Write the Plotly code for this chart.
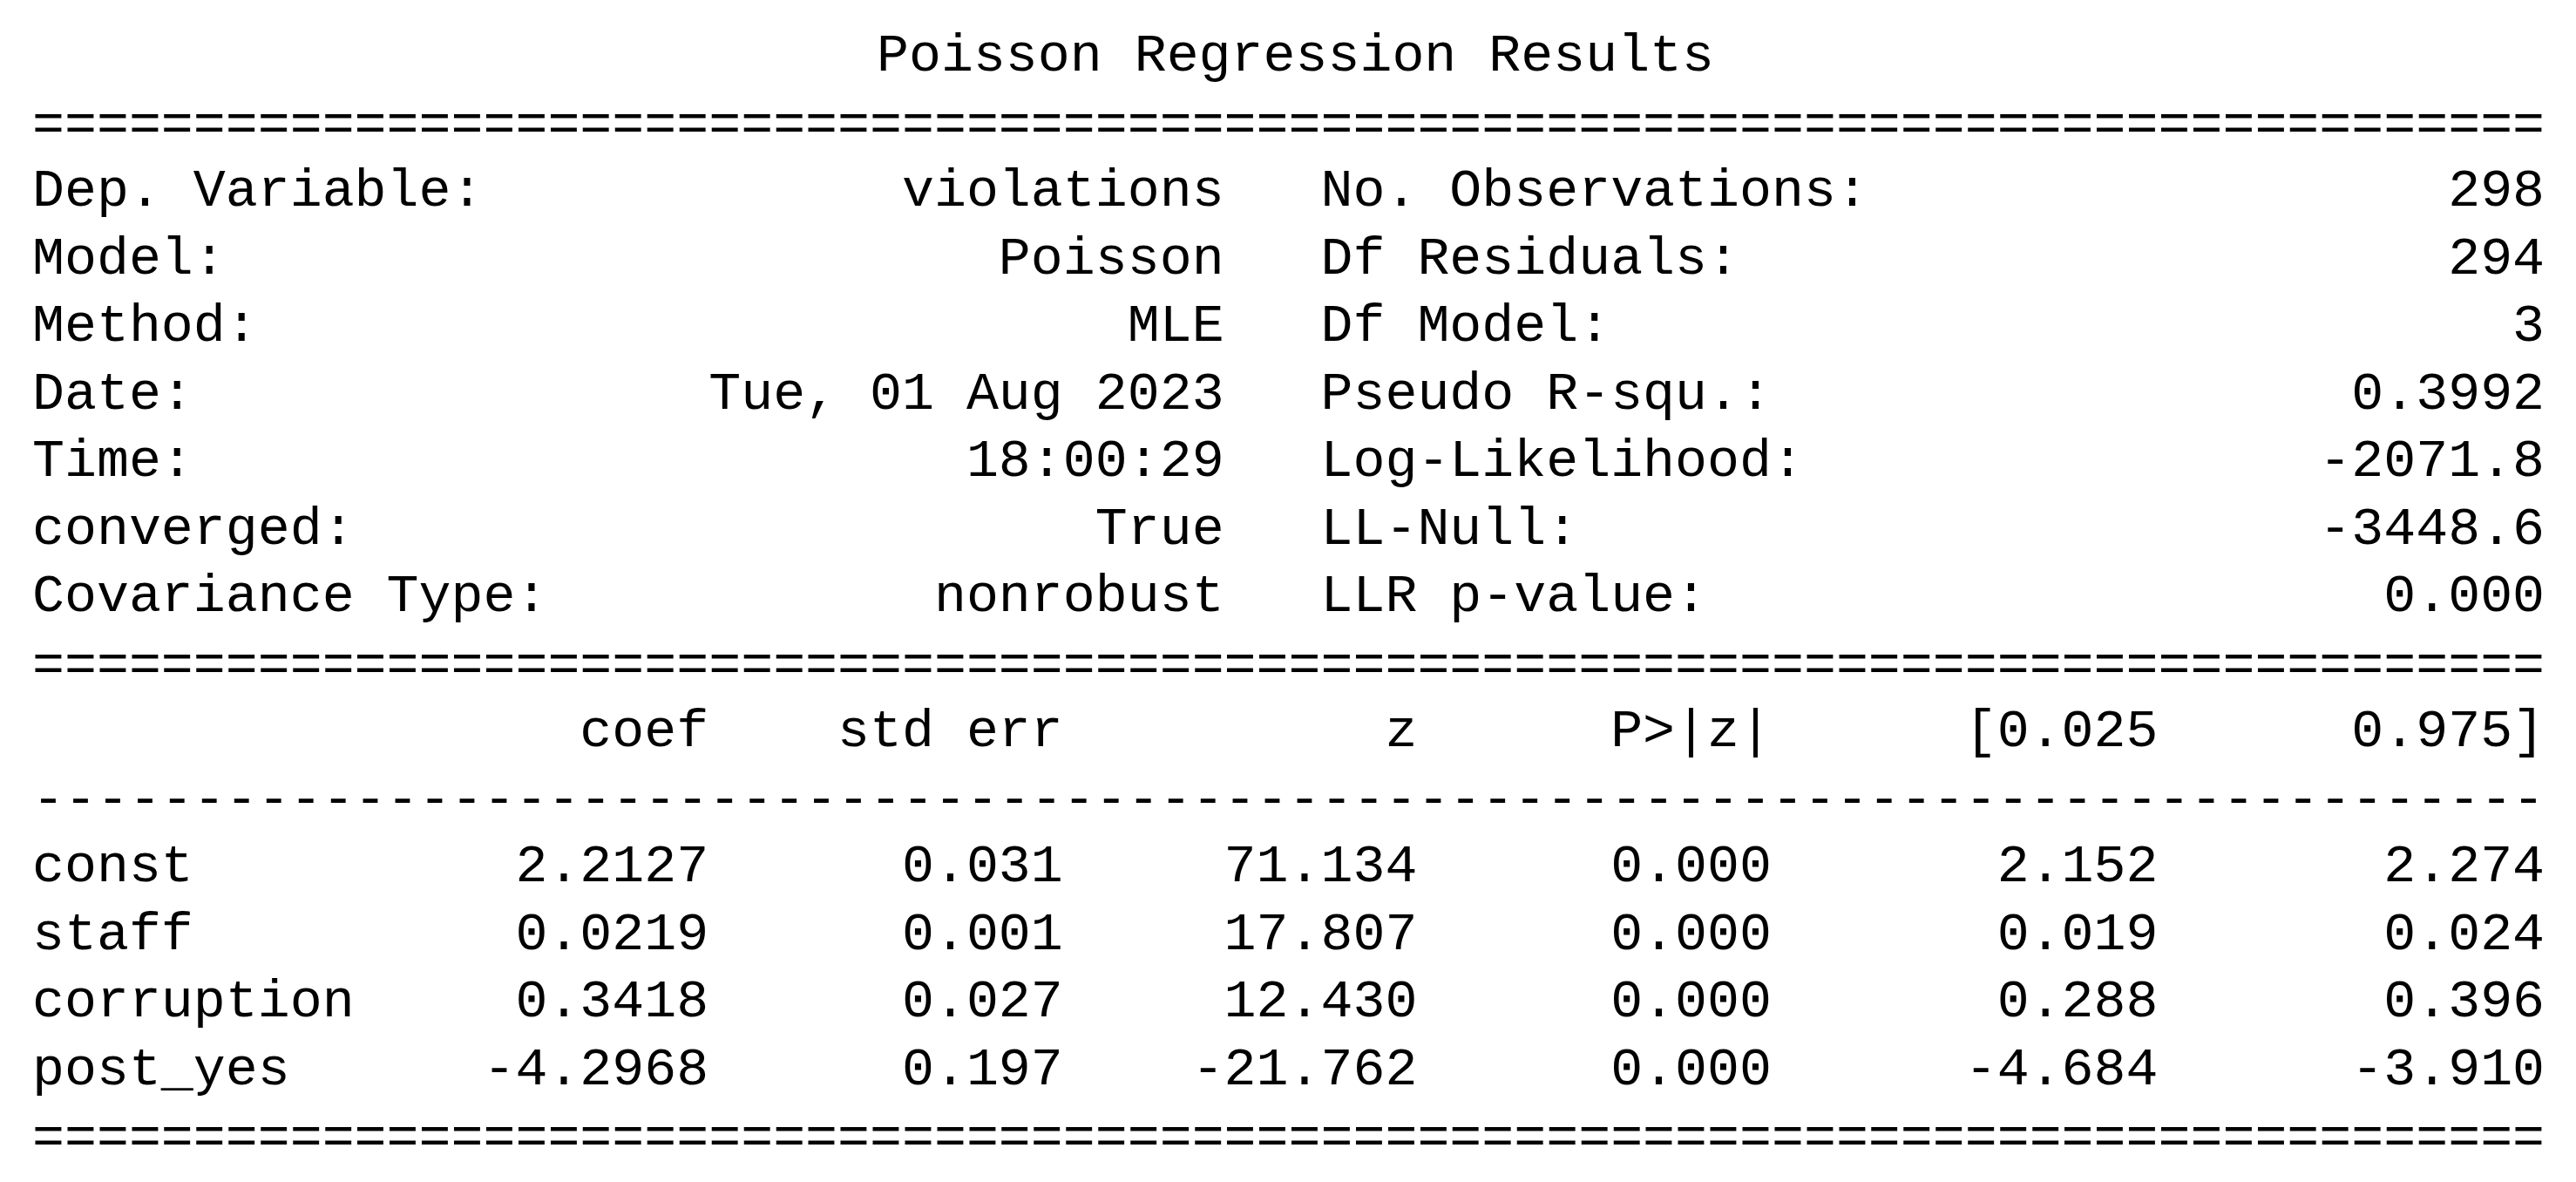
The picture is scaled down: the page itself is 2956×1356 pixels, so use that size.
import plotly.graph_objects as go

W, H = 2956, 1356
title = "Poisson Regression Results"

top_left_labels = ["Dep. Variable:", "Model:", "Method:", "Date:", "Time:", "converged:", "Covariance Type:"]
top_left_values = ["violations", "Poisson", "MLE", "Tue, 01 Aug 2023", "18:00:29", "True", "nonrobust"]
top_right_labels = ["No. Observations:", "Df Residuals:", "Df Model:", "Pseudo R-squ.:", "Log-Likelihood:", "LL-Null:", "LLR p-value:"]
top_right_values = ["298", "294", "3", "0.3992", "-2071.8", "-3448.6", "0.000"]

col_headers = ["coef", "std err", "z", "P>|z|", "[0.025", "0.975]"]
var_names = ["const", "staff", "corruption", "post_yes"]
coef = ["2.2127", "0.0219", "0.3418", "-4.2968"]
std_err = ["0.031", "0.001", "0.027", "0.197"]
z = ["71.134", "17.807", "12.430", "-21.762"]
pval = ["0.000", "0.000", "0.000", "0.000"]
ci_low = ["2.152", "0.019", "0.288", "-4.684"]
ci_high = ["2.274", "0.024", "0.396", "-3.910"]

s = 1.89
lines = []  # (y_small, text)
lines.append((75, "=" * 78))
ys = [115, 156, 197, 238, 279, 320, 361]
for i, y in enumerate(ys):
    lines.append((y, f"{top_left_labels[i]:<20}{top_left_values[i]:>17}   {top_right_labels[i]:<20}{top_right_values[i]:>18}"))
lines.append((403, "=" * 78))
w = [11, 11, 11, 11, 12, 12]
lines.append((443, " " * 11 + "".join(f"{h:>{w[j]-1 if j==0 else w[j]}}" for j, h in enumerate(col_headers))))
lines.append((485, "-" * 78))
ys2 = [525, 566, 607, 648]
for i, y in enumerate(ys2):
    vals = [coef[i], std_err[i], z[i], pval[i], ci_low[i], ci_high[i]]
    lines.append((y, f"{var_names[i]:<11}" + "".join(f"{v:>{w[j]-1 if j==0 else w[j]}}" for j, v in enumerate(vals))))
lines.append((690, "=" * 78))

font = dict(family="Liberation Mono, DejaVu Sans Mono, monospace", size=61.6, color="black")
dy = -3
ann = [dict(x=W / 2, y=(33 + dy) * s, text=title, xref="x", yref="y", showarrow=False,
            xanchor="center", yanchor="middle", font=font)]
for y, t in lines:
    ann.append(dict(x=27, y=(y + dy) * s, text=t.replace(" ", "&nbsp;"), xref="x", yref="y", showarrow=False,
                    xanchor="left", yanchor="middle", font=font))

fig = go.Figure()
fig.update_layout(width=W, height=H, margin=dict(l=0, r=0, t=0, b=0),
                  paper_bgcolor="white", plot_bgcolor="white", annotations=ann,
                  xaxis=dict(range=[0, W], visible=False, fixedrange=True),
                  yaxis=dict(range=[H, 0], visible=False, fixedrange=True))
fig.write_html("out.html")
